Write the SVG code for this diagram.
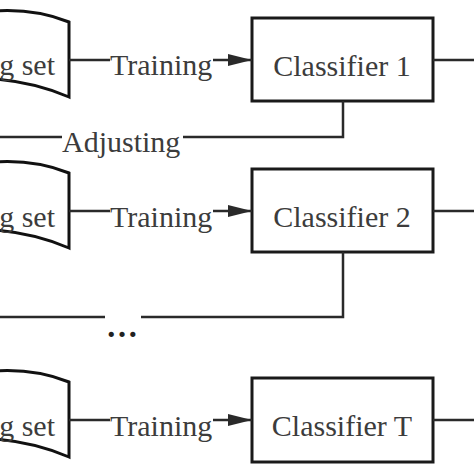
<svg xmlns="http://www.w3.org/2000/svg" width="474" height="474" viewBox="0 0 474 474">
<defs>
<style>
.doc{fill:#fff;stroke:#111;stroke-width:3}
.box{fill:#fff;stroke:#1a1a1a;stroke-width:3}
.ln{fill:none;stroke:#2a2a2a;stroke-width:2.5}
.t{font-family:"Liberation Serif","Times New Roman",serif;font-size:30px;fill:#3c3c3c}
</style>
<marker id="ah" viewBox="0 0 24 12" refX="24" refY="6" markerWidth="24" markerHeight="12" markerUnits="userSpaceOnUse" orient="auto">
<path d="M0,0 L24,6 L0,12 Z" fill="#2a2a2a"/>
</marker>
</defs>
<rect width="474" height="474" fill="#fff"/>
<g id="set1">
<path class="doc" d="M-5,11 Q35,8.5 69,22 L69,97 Q35,82 -5,79"/>
<text class="t" x="55" y="75" text-anchor="end">g set</text>
</g>
<g id="set2">
<path class="doc" d="M-5,162 Q35,159.5 69,173 L69,248 Q35,233 -5,230"/>
<text class="t" x="55" y="227" text-anchor="end">g set</text>
</g>
<g id="set3">
<path class="doc" d="M-5,371 Q35,368.5 69,382 L69,457 Q35,442 -5,439"/>
<text class="t" x="55" y="436" text-anchor="end">g set</text>
</g>
<g id="clf1">
<rect class="box" x="252" y="18" width="181" height="83"/>
<text class="t" x="342" y="76" text-anchor="middle">Classifier 1</text>
</g>
<g id="clf2">
<rect class="box" x="252" y="169" width="181" height="83"/>
<text class="t" x="342" y="227" text-anchor="middle">Classifier 2</text>
</g>
<g id="clfT">
<rect class="box" x="252" y="378" width="181" height="84"/>
<text class="t" x="342" y="436" text-anchor="middle">Classifier T</text>
</g>
<g id="connectors">
<path class="ln" d="M69,60 H110"/>
<path class="ln" d="M213,60 H252" marker-end="url(#ah)"/>
<text class="t" x="110" y="75">Training</text>
<path class="ln" d="M433,60 H474"/>
<path class="ln" d="M343,101 V137 H183"/>
<path class="ln" d="M62,137 H0"/>
<text class="t" x="62" y="152">Adjusting</text>
<path class="ln" d="M69,211 H110"/>
<path class="ln" d="M213,211 H252" marker-end="url(#ah)"/>
<text class="t" x="110" y="227">Training</text>
<path class="ln" d="M433,211 H474"/>
<path class="ln" d="M343,252 V317 H141"/>
<path class="ln" d="M105,317 H0"/>
<text class="t" x="122" y="337" text-anchor="middle" style="font-weight:bold;font-size:32px;fill:#222">…</text>
<path class="ln" d="M69,420 H110"/>
<path class="ln" d="M213,420 H252" marker-end="url(#ah)"/>
<text class="t" x="110" y="436">Training</text>
<path class="ln" d="M433,420 H474"/>
</g>
</svg>
